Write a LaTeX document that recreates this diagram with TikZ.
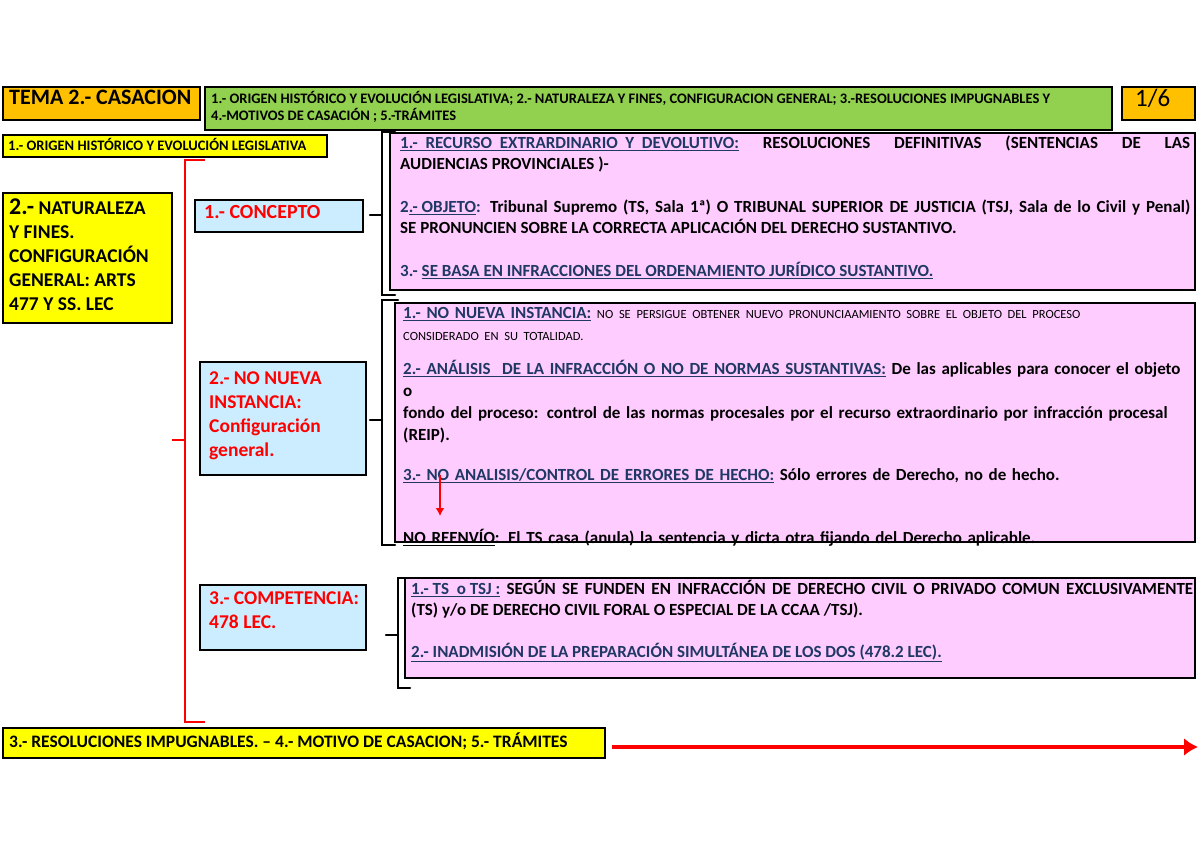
\documentclass[tikz,border=0pt]{standalone}
\usepackage{fontspec}
\setmainfont{Carlito}
\usetikzlibrary{arrows.meta}
\begin{document}
\begin{tikzpicture}[x=1pt,y=-1pt,
 bx/.style={draw=black,line width=2.5pt,inner sep=0pt},
 t/.style={anchor=north west,inner sep=0pt,align=left,font=\bfseries},
 brk/.style={line width=2.5pt,line cap=round},
 rbrk/.style={draw=red,line width=2.5pt}]
\definecolor{org}{HTML}{FFC000}
\definecolor{grn}{HTML}{92D050}
\definecolor{yel}{HTML}{FFFF00}
\definecolor{lblue}{HTML}{CCECFF}
\definecolor{pink}{HTML}{FFCCFF}
\definecolor{hblue}{HTML}{1F3864}
\useasboundingbox (0,0) rectangle (1200,848);
\newcommand{\hu}[1]{\textcolor{hblue}{\underline{#1}}}
% header
\filldraw[bx,fill=org] (3,87) rectangle (200,120);
\node[t,font=\bfseries\fontsize{22}{24}\selectfont] (tema) at (9,90) {TEMA 2.- CASACION};
\filldraw[bx,fill=grn] (205,87) rectangle (1112,130);
\node[t,font=\bfseries\fontsize{14.5}{17}\selectfont] (temas) at (211,91) {1.- ORIGEN HISTÓRICO Y EVOLUCIÓN LEGISLATIVA; 2.- NATURALEZA Y FINES, CONFIGURACION GENERAL; 3.-RESOLUCIONES IMPUGNABLES Y\\4.-MOTIVOS DE CASACIÓN ; 5.-TRÁMITES};
\filldraw[bx,fill=org] (1122,87) rectangle (1195,120);
\node[t,font=\fontsize{25}{27}\selectfont] (pag) at (1135,89) {1/6};
\filldraw[bx,fill=yel] (3,135) rectangle (327,157);
\node[t,font=\bfseries\fontsize{14.5}{16}\selectfont] (orig) at (8,138) {1.- ORIGEN HISTÓRICO Y EVOLUCIÓN LEGISLATIVA};
% left big
\filldraw[bx,fill=yel] (3,193) rectangle (172,323);
\node[t,font=\bfseries\fontsize{19.5}{24}\selectfont] (nat) at (9,199) {{\fontsize{24}{24}\selectfont 2.-} NATURALEZA\\Y FINES.\\CONFIGURACIÓN\\GENERAL: ARTS\\477 Y SS. LEC};
% red bracket
\draw[rbrk] (205,160) -- (185,160) -- (185,722) -- (205,722);
\draw[rbrk] (185,440) -- (172,440);
% middle boxes
\filldraw[bx,fill=lblue] (195,200) rectangle (363,232);
\node[t,text=red,font=\bfseries\fontsize{20}{22}\selectfont] (conc) at (204,205) {1.- CONCEPTO};
\filldraw[bx,fill=lblue] (200,362) rectangle (366,475);
\node[t,text=red,font=\bfseries\fontsize{19.5}{24}\selectfont] (nni) at (209,372) {2.- NO NUEVA\\INSTANCIA:\\Configuración\\general.};
\filldraw[bx,fill=lblue] (200,585) rectangle (366,650);
\node[t,text=red,font=\bfseries\fontsize{19.5}{24}\selectfont] (comp) at (209,592) {3.- COMPETENCIA:\\478 LEC.};
% black brackets
\draw[brk] (395,132) -- (382,132) -- (382,295) -- (395,295);
\draw[brk] (382,215) -- (370,215);
\draw[brk] (398,300) -- (382,300) -- (382,545) -- (395,545);
\draw[brk] (382,420) -- (370,420);
\draw[brk] (410,578) -- (398,578) -- (398,688) -- (410,688);
\draw[brk] (398,635) -- (386,635);
% pink boxes
\filldraw[bx,fill=pink] (390,133) rectangle (1195,290);
\node[t,text width=790pt,align=justify,font=\bfseries\fontsize{17}{21}\selectfont] (p1) at (400,136) {\hu{1.- \ RECURSO \ EXTRARDINARIO \ Y \ DEVOLUTIVO:} RESOLUCIONES DEFINITIVAS (SENTENCIAS DE LAS\linebreak AUDIENCIAS PROVINCIALES )-\par\vspace{22pt}
\textcolor{hblue}{2}\hu{.- OBJETO}\textcolor{hblue}{:} Tribunal Supremo (TS, Sala 1ª) O TRIBUNAL SUPERIOR DE JUSTICIA (TSJ, Sala de lo Civil y Penal)\linebreak SE PRONUNCIEN SOBRE LA CORRECTA APLICACIÓN DEL DERECHO SUSTANTIVO.\hfill\null\par\vspace{22pt}
\textcolor{hblue}{3.- }\hu{SE BASA EN INFRACCIONES DEL ORDENAMIENTO JURÍDICO SUSTANTIVO.}\hfill\null};
\filldraw[bx,fill=pink] (395,303) rectangle (1195,542);
\node[t,text width=785pt,font=\bfseries\fontsize{17}{22}\selectfont] (p2) at (403,307) {\hu{1.- NO NUEVA INSTANCIA:} {\mdseries\fontsize{12.5}{22}\selectfont NO SE PERSIGUE OBTENER NUEVO PRONUNCIAAMIENTO SOBRE EL OBJETO DEL PROCESO\\CONSIDERADO EN SU TOTALIDAD.}\par\vspace{12pt}
\hu{2.- ANÁLISIS \ DE LA INFRACCIÓN O NO DE NORMAS SUSTANTIVAS:} De las aplicables para conocer el objeto o\\fondo del proceso: control de las normas procesales por el recurso extraordinario por infracción procesal\\(REIP).\par\vspace{18pt}
\hu{3.- NO ANALISIS/CONTROL DE ERRORES DE HECHO:} Sólo errores de Derecho, no de hecho.\par\vspace{41pt}
\underline{NO REENVÍO}: El TS casa (anula) la sentencia y dicta otra fijando del Derecho aplicable.};
\coordinate (a1) at (440,475);
\coordinate (a2) at (440,516);
\draw[red,line width=2.5pt,-{Latex[length=8pt,width=9pt]}] (a1) -- (a2);
\filldraw[bx,fill=pink] (405,578) rectangle (1195,678);
\node[t,text width=782pt,align=justify,font=\bfseries\fontsize{17}{21}\selectfont] (p3) at (411,580) {\hu{1.- TS \ o TSJ :} SEGÚN SE FUNDEN EN INFRACCIÓN DE DERECHO CIVIL O PRIVADO COMUN EXCLUSIVAMENTE\linebreak (TS) y/o DE DERECHO CIVIL FORAL O ESPECIAL DE LA CCAA /TSJ).\hfill\null\par\vspace{21pt}
\hu{2.- INADMISIÓN DE LA PREPARACIÓN SIMULTÁNEA DE LOS DOS (478.2 LEC).}\hfill\null};
% bottom
\filldraw[bx,fill=yel] (3,728) rectangle (605,758);
\node[t,font=\bfseries\fontsize{17.5}{19}\selectfont] (res) at (9,733) {3.- RESOLUCIONES IMPUGNABLES. – 4.- MOTIVO DE CASACION; 5.- TRÁMITES};
\coordinate (b1) at (612,747);
\coordinate (b2) at (1198,747);
\draw[red,line width=4pt,-{Latex[length=14pt,width=18pt]}] (b1) -- (b2);
\end{tikzpicture}
\end{document}
